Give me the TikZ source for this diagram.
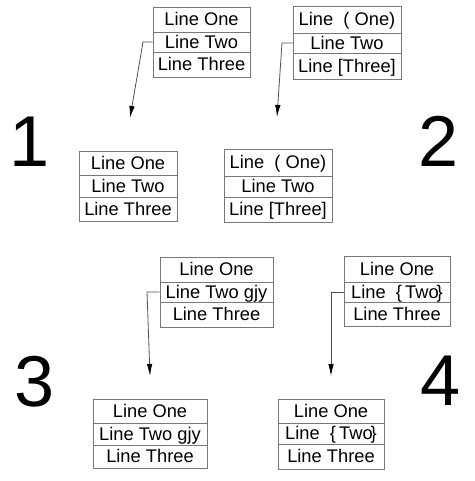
\documentclass[tikz,border=0pt]{standalone}
\usepackage{fontspec}
\setmainfont{Liberation Sans}
\usetikzlibrary{arrows.meta}
\definecolor{boxgray}{HTML}{787878}
\definecolor{linegray}{HTML}{505050}
\begin{document}
\begin{tikzpicture}[x=1pt,y=-1pt,
  row/.style={draw=boxgray, line width=0.9pt, inner sep=0pt, font=\fontsize{18.3}{20}\selectfont, text height=12.6pt, text depth=0pt},
  conn/.style={draw=linegray, line width=0.8pt, -{Latex[length=12pt,width=5.5pt,color=black]}},
  digit/.style={anchor=base, inner sep=0pt, font=\fontsize{72}{80}\selectfont}]
\useasboundingbox (0,0) rectangle (474,481);
% Box 1a
\node[row, minimum width=97pt, minimum height=25pt] (b1a1) at (201.5,19.5) {Line One};
\node[row, minimum width=97pt, minimum height=20pt] (b1a2) at (201.5,42) {Line Two};
\node[row, minimum width=97pt, minimum height=25pt] (b1a3) at (201.5,64.5) {Line Three};
% Box 2a
\node[row, minimum width=108pt, minimum height=27pt] (b2a1) at (347,19.5) {Line\ \ (\ One)};
\node[row, minimum width=108pt, minimum height=20pt] (b2a2) at (347,43) {Line Two};
\node[row, minimum width=108pt, minimum height=26pt] (b2a3) at (347,66) {Line [Three]};
% Box 1b
\node[row, minimum width=98pt, minimum height=24pt] (b1b1) at (128,163) {Line One};
\node[row, minimum width=98pt, minimum height=22pt] (b1b2) at (128,186) {Line Two};
\node[row, minimum width=98pt, minimum height=24pt] (b1b3) at (128,209) {Line Three};
% Box 2b
\node[row, minimum width=108pt, minimum height=27pt] (b2b1) at (278,162.5) {Line\ \ (\ One)};
\node[row, minimum width=108pt, minimum height=21pt] (b2b2) at (278,186.5) {Line Two};
\node[row, minimum width=108pt, minimum height=25pt] (b2b3) at (278,209.5) {Line [Three]};
% Box 3a
\node[row, minimum width=113pt, minimum height=25pt] (b3a1) at (216.5,269.5) {Line One};
\node[row, minimum width=113pt, minimum height=20pt] (b3a2) at (216.5,292) {Line Two gjy};
\node[row, minimum width=113pt, minimum height=25pt] (b3a3) at (216.5,314.5) {Line Three};
% Box 4a
\node[row, minimum width=106pt, minimum height=26pt] (b4a1) at (397,269) {Line One};
\node[row, minimum width=106pt, minimum height=20pt] (b4a2) at (397,292) {Line\ \ \{\,Two\kern-2pt\}};
\node[row, minimum width=106pt, minimum height=24pt] (b4a3) at (397,314) {Line Three};
% Box 3b
\node[row, minimum width=114pt, minimum height=24pt] (b3b1) at (150,411) {Line One};
\node[row, minimum width=114pt, minimum height=22pt] (b3b2) at (150,434) {Line Two gjy};
\node[row, minimum width=114pt, minimum height=23pt] (b3b3) at (150,456.5) {Line Three};
% Box 4b
\node[row, minimum width=106pt, minimum height=24pt] (b4b1) at (331,411) {Line One};
\node[row, minimum width=106pt, minimum height=21pt] (b4b2) at (331,433.5) {Line\ \ \{\,Two\kern-2pt\}};
\node[row, minimum width=106pt, minimum height=25pt] (b4b3) at (331,456.5) {Line Three};
% Digits
\node[digit] (n1) at (30,167) {1};
\node[digit] (n2) at (439,167) {2};
\node[digit] (n3) at (34.5,406) {3};
\node[digit] (n4) at (441,405) {4};
% Connectors
\coordinate (k1) at (143,42);  \coordinate (t1) at (130,118);
\coordinate (k2) at (282,43);  \coordinate (t2) at (277,117);
\coordinate (k3) at (147,292); \coordinate (t3) at (150,376);
\coordinate (k4) at (331,292); \coordinate (t4) at (331,376);
\draw[conn] (b1a2.west) -- (k1) -- (t1);
\draw[conn] (b2a2.west) -- (k2) -- (t2);
\draw[conn] (b3a2.west) -- (k3) -- (t3);
\draw[conn] (b4a2.west) -- (k4) -- (t4);
\end{tikzpicture}
\end{document}
